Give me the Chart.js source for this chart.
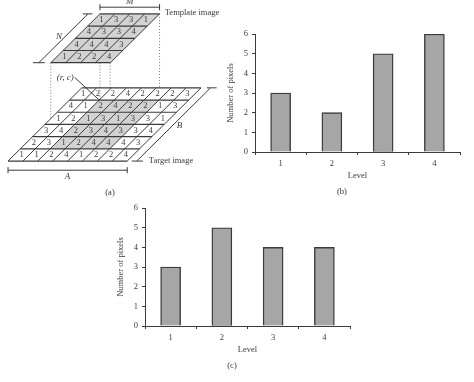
<!DOCTYPE html>
<html>
<head>
<meta charset="utf-8">
<style>
  body { margin: 0; background: #fff; width: 474px; height: 382px; overflow: hidden; position: relative; }
  canvas { position: absolute; }
  .cap { position: absolute; font: 8.5px "Liberation Serif", serif; color: #333; transform: translate(-50%, -50%); }
</style>
<script src="https://cdn.jsdelivr.net/npm/chart.js@4"></script>
</head>
<body>
<canvas id="diagram" width="474" height="382" style="left:0;top:0"></canvas>
<canvas id="histB" width="254" height="160" style="left:220px;top:25px"></canvas>
<canvas id="histC" width="254" height="160" style="left:110px;top:199px"></canvas>
<div class="cap" style="left:110px;top:192px">(a)</div>
<div class="cap" style="left:342px;top:191px">(b)</div>
<div class="cap" style="left:232px;top:365px">(c)</div>
<script>
const levels = ["1", "2", "3", "4"];
const countsB = [3, 2, 5, 6];
const countsC = [3, 5, 4, 4];
const countTicks = [0, 1, 2, 3, 4, 5, 6];

// cell values, top row first
const templateCells = [
  [1, 3, 3, 1],
  [4, 3, 3, 4],
  [4, 4, 4, 3],
  [1, 2, 2, 4]
];
const targetCells = [
  [1, 2, 2, 4, 2, 2, 2, 3],
  [4, 1, 2, 4, 2, 2, 1, 3],
  [1, 2, 1, 3, 1, 3, 3, 1],
  [3, 4, 2, 3, 4, 3, 3, 4],
  [2, 3, 1, 2, 4, 4, 4, 3],
  [1, 1, 2, 4, 1, 2, 2, 4]
];

const ink = "#3a3a3a";
const serif = "Liberation Serif";

// ---- grid diagram (a), x axis is in cells and y axis in rows ----
const SHEAR = 0.825; // sideways shift per row, in cells
const templateOrigin = [2.87, 8.06];
const targetOrigin = [0, 0];

function gridPoint(origin, cells, col, row) {
  const up = cells.length - row;
  return { x: origin[0] + col + up * SHEAR, y: origin[1] + up };
}
function shifted(p, dx, dy) {
  return { x: p.x + dx, y: p.y + dy };
}

const datasets = [];
function addLine(points, color, width, dash, order) {
  datasets.push({
    data: points, showLine: true, pointRadius: 0, fill: false, tension: 0,
    borderColor: color, borderWidth: width, borderDash: dash || [], order: order || 1
  });
}
function addShade(origin, cells, c0, r0, c1, r1) {
  const a = gridPoint(origin, cells, c0, r0), b = gridPoint(origin, cells, c1, r0);
  const c = gridPoint(origin, cells, c1, r1), d = gridPoint(origin, cells, c0, r1);
  datasets.push({
    data: [a, b, c, d, a], showLine: true, pointRadius: 0, borderWidth: 0, tension: 0,
    fill: "shape", backgroundColor: "#d2d2d2", order: 3
  });
}
function addGrid(origin, cells) {
  const rows = cells.length, cols = cells[0].length;
  for (let r = 0; r <= rows; r++) {
    addLine([gridPoint(origin, cells, 0, r), gridPoint(origin, cells, cols, r)], ink, 1.2);
  }
  for (let c = 0; c <= cols; c++) {
    addLine([gridPoint(origin, cells, c, 0), gridPoint(origin, cells, c, rows)], ink, 1);
  }
}

addShade(templateOrigin, templateCells, 0, 0, 4, 4);
addShade(targetOrigin, targetCells, 2, 1, 6, 5);
addGrid(templateOrigin, templateCells);
addGrid(targetOrigin, targetCells);

const tp = (c, r) => gridPoint(templateOrigin, templateCells, c, r);
const gp = (c, r) => gridPoint(targetOrigin, targetCells, c, r);

// dotted drop lines from the template corners down to the shaded window
const dots = "#777";
addLine([tp(0, 4), { x: tp(0, 4).x, y: gp(0, 2.55).y }], dots, 1, [1, 2], 2);
addLine([tp(3.98, 4), { x: tp(3.98, 4).x, y: gp(0, 0).y }], dots, 1, [1, 2], 2);
addLine([tp(3.3, 4), { x: tp(3.3, 4).x, y: gp(0, 1).y }], dots, 1, [1, 2], 2);
addLine([tp(4, 0), { x: tp(4, 0).x, y: gp(0, 0).y }], dots, 1, [1, 2], 2);

// dimension brackets
const brW = 1;
const mY = tp(0, 0).y + 0.55;
addLine([{ x: tp(0, 0).x, y: mY }, { x: tp(4, 0).x, y: mY }], ink, brW);
addLine([{ x: tp(0, 0).x, y: mY - 0.25 }, { x: tp(0, 0).x, y: mY + 0.25 }], ink, brW);
addLine([{ x: tp(4, 0).x, y: mY - 0.25 }, { x: tp(4, 0).x, y: mY + 0.25 }], ink, brW);

addLine([shifted(tp(0, 4), -0.8, 0), shifted(tp(0, 0), -0.8, 0)], ink, brW);
addLine([shifted(tp(0, 4), -1.2, 0), shifted(tp(0, 4), -0.4, 0)], ink, brW);
addLine([shifted(tp(0, 0), -1.15, 0), shifted(tp(0, 0), -0.5, 0)], ink, brW);

const aY = gp(0, 6).y - 0.75;
addLine([{ x: gp(0, 6).x, y: aY }, { x: gp(8, 6).x, y: aY }], ink, brW);
addLine([{ x: gp(0, 6).x, y: aY - 0.25 }, { x: gp(0, 6).x, y: aY + 0.25 }], ink, brW);
addLine([{ x: gp(8, 6).x, y: aY - 0.25 }, { x: gp(8, 6).x, y: aY + 0.25 }], ink, brW);

addLine([shifted(gp(8, 6), 0.64, 0), shifted(gp(8, 0), 0.64, 0)], ink, brW);
addLine([shifted(gp(8, 6), 0.3, 0), shifted(gp(8, 6), 1.05, 0)], ink, brW);
addLine([shifted(gp(8, 0), 0.4, 0), shifted(gp(8, 0), 1.05, 0)], ink, brW);

// leader from (r, c) to the window corner
addLine([shifted(gp(2, 1), -1.65, 1.85), gp(2, 1)], ink, 1);

const cellLabels = {
  id: "cellLabels",
  afterDatasetsDraw(chart) {
    const ctx = chart.ctx, sx = chart.scales.x, sy = chart.scales.y;
    function put(text, p, font, align) {
      ctx.font = font;
      ctx.textAlign = align || "center";
      ctx.textBaseline = "middle";
      ctx.fillStyle = ink;
      ctx.fillText(text, sx.getPixelForValue(p.x), sy.getPixelForValue(p.y));
    }
    ctx.save();
    const num = "8.5px '" + serif + "'";
    const ital = "italic 9px '" + serif + "'";
    templateCells.forEach((row, r) => row.forEach((v, c) => put(String(v), tp(c + 0.5, r + 0.5), num)));
    targetCells.forEach((row, r) => row.forEach((v, c) => put(String(v), gp(c + 0.5, r + 0.5), num)));
    put("Template image", shifted(tp(4, 0), 0.35, 0.08), num, "left");
    put("Target image", shifted(gp(8, 6), 1.45, 0), num, "left");
    put("M", { x: (tp(0, 0).x + tp(4, 0).x) / 2, y: mY + 0.42 }, ital);
    put("N", shifted(tp(2, 2), -3.1, 0.1), ital);
    put("A", { x: (gp(0, 6).x + gp(8, 6).x) / 2, y: aY - 0.55 }, ital);
    put("B", shifted(gp(8, 3), 1.03, -0.1), ital);
    put("(r, c)", shifted(gp(2, 1), -2.28, 1.85), ital);
    ctx.restore();
  }
};

new Chart(document.getElementById("diagram"), {
  type: "scatter",
  data: { datasets: datasets },
  plugins: [cellLabels],
  options: {
    responsive: false,
    animation: false,
    layout: { padding: 0 },
    plugins: { legend: { display: false }, tooltip: { enabled: false } },
    scales: {
      x: { display: false, min: -0.537, max: 31.27 },
      y: { display: false, min: -18.11, max: 13.2 }
    }
  }
});

// ---- histograms (b) and (c) ----
function makeHist(id, counts) {
  const tickFont = { family: serif, size: 8.5 };
  new Chart(document.getElementById(id), {
    type: "bar",
    data: {
      labels: levels,
      datasets: [{
        data: counts,
        backgroundColor: "#a6a6a6",
        borderColor: ink,
        borderWidth: 1.4,
        barThickness: 20
      }]
    },
    options: {
      responsive: false,
      animation: false,
      layout: { padding: { top: 8, right: 14, bottom: 4, left: 0 } },
      plugins: { legend: { display: false }, tooltip: { enabled: false } },
      scales: {
        x: {
          border: { color: ink, width: 1 },
          grid: { drawOnChartArea: false, color: ink, tickLength: 3 },
          ticks: { color: ink, font: tickFont, padding: 4 },
          title: { display: true, text: "Level", color: ink, font: tickFont, padding: { top: 0, bottom: 0 } },
          afterFit(scale) { scale.height = 29; }
        },
        y: {
          min: 0,
          max: 6,
          afterBuildTicks(scale) { scale.ticks = countTicks.map(v => ({ value: v })); },
          border: { color: ink, width: 1 },
          grid: { drawOnChartArea: false, color: ink, tickLength: 3 },
          ticks: { color: ink, font: tickFont, padding: 4 },
          title: { display: true, text: "Number of pixels", color: ink, font: tickFont, padding: { top: 6, bottom: 0 } },
          afterFit(scale) { scale.width = 35; }
        }
      }
    }
  });
}

makeHist("histB", countsB);
makeHist("histC", countsC);
</script>
</body>
</html>
